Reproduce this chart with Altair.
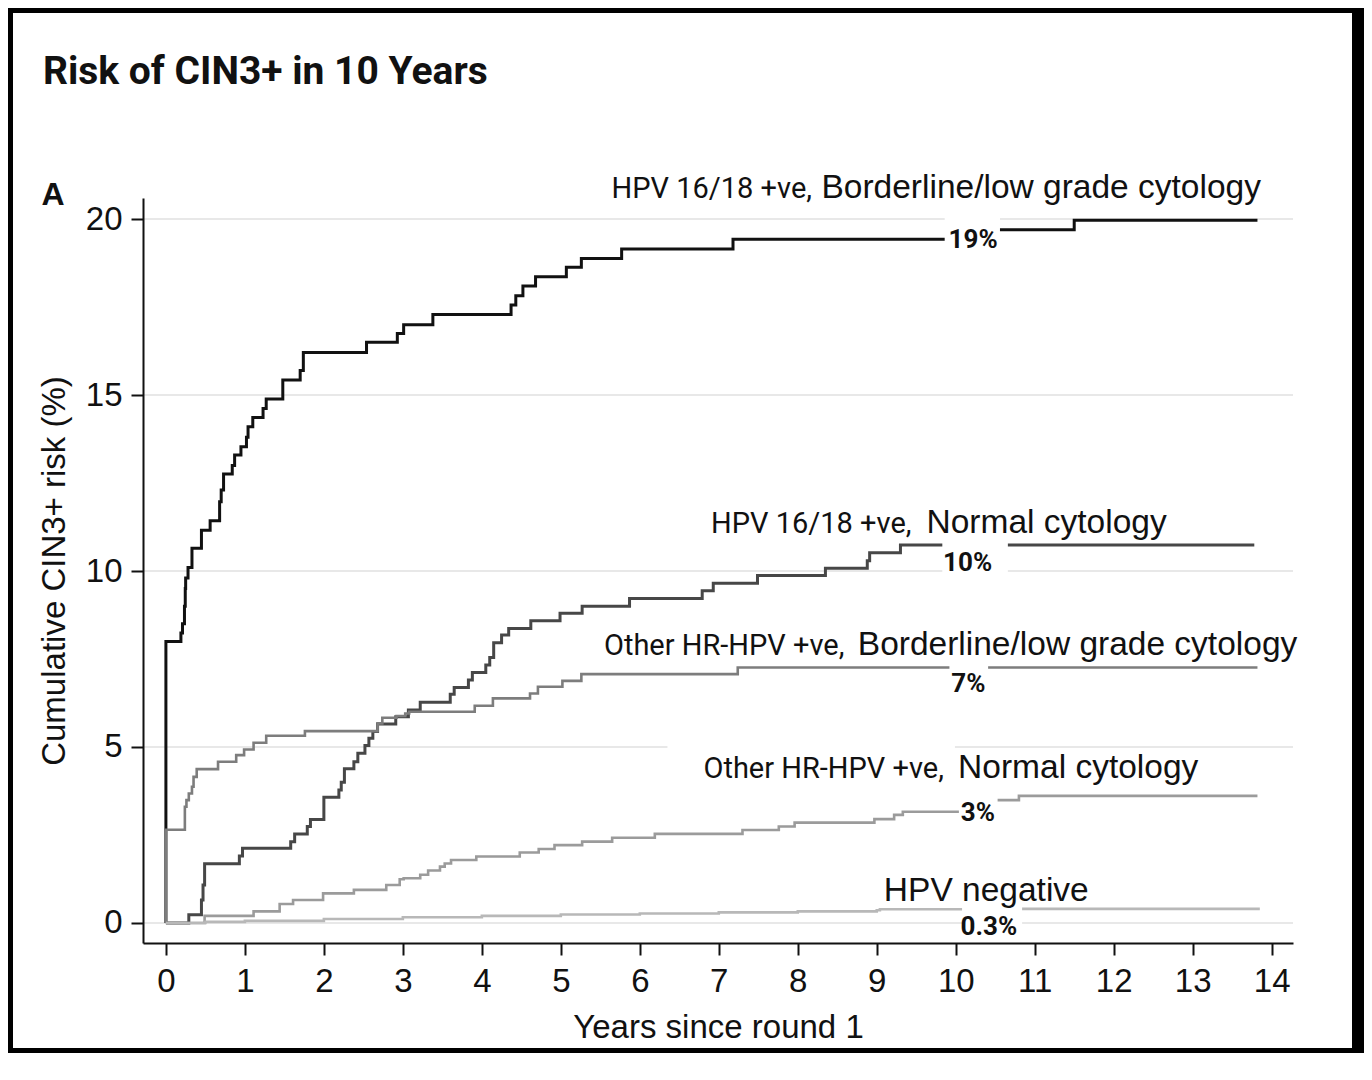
import altair as alt
import pandas as pd

# ---------------- data ----------------
series_names = [
    "HPV 16/18 +ve, Borderline/low grade cytology",
    "HPV 16/18 +ve, Normal cytology",
    "Other HR-HPV +ve, Borderline/low grade cytology",
    "Other HR-HPV +ve, Normal cytology",
    "HPV negative",
]

s1_t = [0, 0, 0.19, 0.21, 0.235, 0.245, 0.25, 0.28, 0.33, 0.45, 0.56, 0.68, 0.70, 0.73, 0.84,
        0.87, 0.95, 1.02, 1.04, 1.10, 1.23, 1.27, 1.48, 1.70, 1.74, 2.54, 2.93, 3.01, 3.38,
        4.37, 4.43, 4.52, 4.68, 5.07, 5.26, 5.77, 7.18, 10.2, 11.5, 13.82]
s1_y = [0, 8.0, 8.24, 8.5, 9.0, 9.5, 9.8, 10.1, 10.65, 11.16, 11.43, 11.97, 12.3, 12.76, 13.0,
        13.3, 13.53, 13.8, 14.1, 14.36, 14.62, 14.89, 15.43, 15.7, 16.21, 16.5, 16.75, 17.0, 17.29,
        17.56, 17.82, 18.1, 18.36, 18.63, 18.88, 19.15, 19.43, 19.7, 19.97, 19.97]

s2_t = [0, 0.29, 0.45, 0.47, 0.49, 0.93, 0.97, 1.58, 1.63, 1.79, 1.83, 2.0, 2.19, 2.22, 2.26,
        2.38, 2.43, 2.52, 2.57, 2.62, 2.68, 2.91, 3.07, 3.22, 3.60, 3.65, 3.83, 3.88, 4.05,
        4.10, 4.15, 4.25, 4.34, 4.62, 4.99, 5.27, 5.87, 6.79, 6.93, 7.49, 8.35, 8.88, 8.91,
        9.30, 13.78]
s2_y = [0, 0.23, 0.65, 1.08, 1.68, 1.9, 2.12, 2.31, 2.53, 2.74, 2.94, 3.57, 3.78, 4.0, 4.38,
        4.58, 4.82, 5.04, 5.25, 5.44, 5.65, 5.86, 6.05, 6.27, 6.5, 6.69, 6.9, 7.12, 7.33,
        7.54, 7.96, 8.18, 8.37, 8.59, 8.8, 9.0, 9.22, 9.44, 9.65, 9.87, 10.08, 10.29, 10.52,
        10.74, 10.74]

s3_t = [0, 0, 0.24, 0.26, 0.29, 0.33, 0.35, 0.39, 0.66, 0.89, 0.99, 1.11, 1.27, 1.76, 2.68,
        2.74, 2.92, 3.03, 3.08, 3.91, 4.14, 4.61, 4.71, 5.02, 5.26, 7.24, 13.82]
s3_y = [0, 2.65, 3.30, 3.49, 3.68, 3.87, 4.15, 4.37, 4.58, 4.77, 4.93, 5.12, 5.32, 5.45, 5.67,
        5.83, 5.88, 5.95, 6.0, 6.17, 6.38, 6.52, 6.71, 6.88, 7.07, 7.26, 7.26]

s4_t = [0, 0.49, 1.11, 1.44, 1.61, 1.99, 2.38, 2.79, 2.96, 3.01, 3.22, 3.32, 3.47, 3.53, 3.61,
        3.93, 4.48, 4.72, 4.92, 5.27, 5.65, 6.19, 7.30, 7.76, 7.96, 8.97, 9.22, 9.33, 10.3,
        10.8, 13.82]
s4_y = [0, 0.2, 0.33, 0.54, 0.65, 0.84, 0.94, 1.08, 1.24, 1.27, 1.37, 1.49, 1.60, 1.69, 1.79,
        1.89, 2.0, 2.10, 2.21, 2.31, 2.42, 2.53, 2.64, 2.74, 2.85, 2.95, 3.07, 3.16, 3.49,
        3.61, 3.61]

s5_t = [0, 0.5, 1, 2, 3, 4, 5, 6, 7, 8, 9, 9.04, 10.5, 13.85]
s5_y = [0, 0.03, 0.06, 0.11, 0.16, 0.2, 0.24, 0.27, 0.3, 0.33, 0.36, 0.39, 0.4, 0.4]

# curve labels: first part (condensed), second part (regular)
lab_a_text = ["HPV 16/18 +ve,", "HPV 16/18 +ve,", "Other HR-HPV +ve,", "Other HR-HPV +ve,"]
lab_a_x = [8.18, 9.44, 8.59, 9.85]
lab_a_y = [20.6, 11.08, 7.61, 4.12]
lab_b_text = ["Borderline/low grade cytology", "Normal cytology",
              "Borderline/low grade cytology", "Normal cytology", "HPV negative"]
lab_b_x = [8.30, 9.63, 8.76, 10.03, 9.09]
lab_b_y = [20.6, 11.08, 7.61, 4.12, 0.61]

# 10-year risk labels
pct_text = ["19%", "10%", "7%", "3%", "0.3%"]
pct_x = [10.22, 10.15, 10.16, 10.28, 10.42]
pct_y = [19.17, 10.01, 6.57, 2.91, -0.34]

# white backing boxes behind labels (data units)
box_x1 = [9.86, 9.83, 9.92, 10.04, 10.08, 6.35]
box_x2 = [10.56, 10.66, 10.41, 10.53, 10.84, 9.99]
box_y1 = [20.03, 10.94, 7.41, 3.64, 0.51, 5.06]
box_y2 = [18.8, 9.83, 6.28, 2.64, -0.48, 3.78]

grid_values = [0, 5, 10, 15, 20]
x_ticks = list(range(15))

# chart title and panel letter (placed in data units)
title_text = ["Risk of CIN3+ in 10 Years"]
title_x = [-1.557]
title_y = [23.85]
panel_text = ["A"]
panel_x = [-1.43]
panel_y = [20.4]

# ---------------- build tables ----------------
rows = []
for name, ts, ys in zip(series_names, [s1_t, s2_t, s3_t, s4_t, s5_t], [s1_y, s2_y, s3_y, s4_y, s5_y]):
    for i, (t, y) in enumerate(zip(ts, ys)):
        rows.append({"series": name, "t": t, "y": y, "i": i})
df = pd.DataFrame(rows)

df_a = pd.DataFrame({"t": lab_a_x, "y": lab_a_y, "label": lab_a_text})
df_b = pd.DataFrame({"t": lab_b_x, "y": lab_b_y, "label": lab_b_text})
df_pct = pd.DataFrame({"t": pct_x, "y": pct_y, "label": pct_text})
df_box = pd.DataFrame({"x1": box_x1, "x2": box_x2, "y1": box_y1, "y2": box_y2})
df_panel = pd.DataFrame({"t": panel_x, "y": panel_y, "label": panel_text})
df_title = pd.DataFrame({"t": title_x, "y": title_y, "label": title_text})
df_grid = pd.DataFrame({"g": grid_values})

FONT = "Liberation Sans, Arial, Helvetica, sans-serif"
NARROW = "Roboto, Liberation Sans, sans-serif"

x_scale = alt.Scale(domain=[-0.29, 14.27], nice=False, zero=False)
y_scale = alt.Scale(domain=[-0.57, 20.6], nice=False, zero=False)

x_axis = alt.Axis(values=x_ticks, title="Years since round 1", grid=False, zindex=1,
                  tickSize=12, tickWidth=2, tickColor="#111", domainColor="#111", domainWidth=2,
                  labelFontSize=33, labelColor="#111", labelFont=FONT, labelPadding=10,
                  labelFlush=False, titleFontSize=33, titleFont=FONT, titleFontWeight="normal",
                  titleColor="#111", titlePadding=13)
y_axis = alt.Axis(values=grid_values, title="Cumulative CIN3+ risk (%)", grid=False, zindex=1,
                  tickSize=12, tickWidth=2, tickColor="#111", domainColor="#111", domainWidth=2,
                  labelFontSize=33, labelColor="#111", labelFont=FONT, labelPadding=9,
                  labelFlush=False, titleFontSize=33, titleFont=FONT, titleFontWeight="normal",
                  titleColor="#111", titlePadding=14)


def X(field):
    return alt.X(field, type="quantitative", scale=x_scale, axis=x_axis)


def Y(field):
    return alt.Y(field, type="quantitative", scale=y_scale, axis=y_axis)


# white page panel inside the black picture frame
frame = alt.Chart(pd.DataFrame({"k": [0]})).mark_rect(color="white").encode(
    x=alt.value(-130), x2=alt.value(1209), y=alt.value(-185), y2=alt.value(850))

grid = alt.Chart(df_grid).mark_rule(color="#e8e8e8", strokeWidth=2).encode(y=Y("g"))

colors = ["#111111", "#474747", "#7d7d7d", "#9b9b9b", "#b8b8b8"]
widths = [3, 3, 2.6, 2.6, 2.6]

layers = [frame, grid]
for k, name in enumerate(series_names):
    layers.append(
        alt.Chart(df).transform_filter(alt.datum.series == name)
        .mark_line(interpolate="step-after", color=colors[k], strokeWidth=widths[k])
        .encode(x=X("t"), y=Y("y"), order=alt.Order("i:Q"))
    )

boxes = alt.Chart(df_box).mark_rect(color="white").encode(
    x=X("x1"), x2="x2", y=Y("y1"), y2="y2")

text_a = alt.Chart(df_a).mark_text(align="right", baseline="alphabetic", font=NARROW,
                                   fontSize=29, color="#111").encode(x=X("t"), y=Y("y"), text="label:N")
text_b = alt.Chart(df_b).mark_text(align="left", baseline="alphabetic", font=FONT,
                                   fontSize=33.5, color="#111").encode(x=X("t"), y=Y("y"), text="label:N")
text_pct = alt.Chart(df_pct).mark_text(align="center", baseline="alphabetic", font=NARROW,
                                       fontSize=26, fontWeight="bold", color="#111").encode(
    x=X("t"), y=Y("y"), text="label:N")
text_panel = alt.Chart(df_panel).mark_text(align="center", baseline="alphabetic", font=FONT,
                                           fontSize=32, fontWeight="bold", color="#111").encode(
    x=X("t"), y=Y("y"), text="label:N")
text_title = alt.Chart(df_title).mark_text(align="left", baseline="alphabetic", font=NARROW,
                                           fontSize=39, fontWeight="bold", color="#111").encode(
    x=X("t"), y=Y("y"), text="label:N")

chart = alt.layer(*layers, boxes, text_a, text_b, text_pct, text_panel, text_title).properties(
    width=1150,
    height=745,
    padding={"left": 135, "top": 190, "right": 71, "bottom": 110},
    autosize=alt.AutoSizeParams(type="none"),
    background="black",
).configure_view(stroke=None)

chart.save("out.html", embed_options={"renderer": "svg", "actions": False})
